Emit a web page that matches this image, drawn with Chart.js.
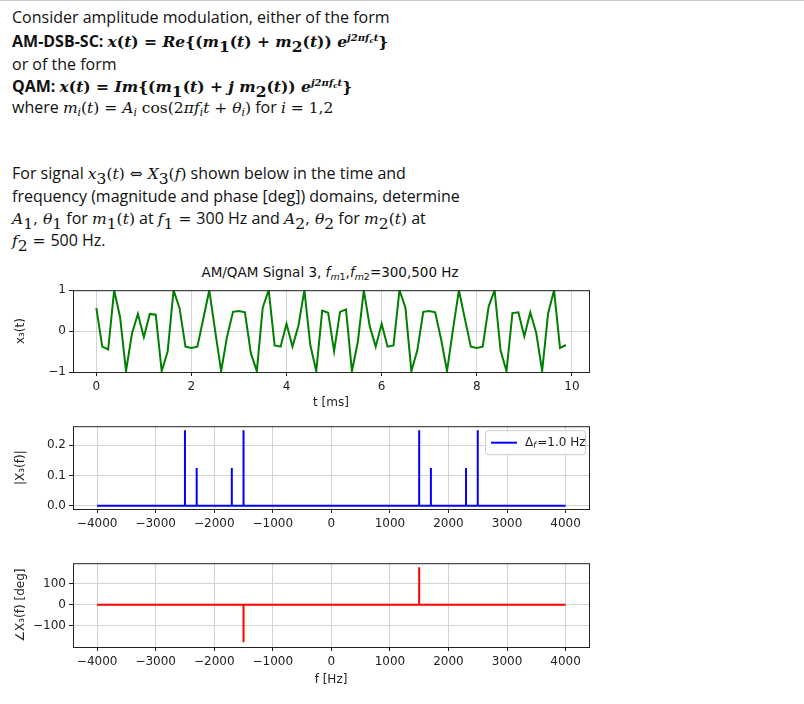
<!DOCTYPE html>
<html><head><meta charset="utf-8">
<script src="https://cdn.jsdelivr.net/npm/chart.js@4.4.0/dist/chart.umd.min.js"></script>
<style>
body{margin:0;background:#fff;width:804px;height:704px;position:relative;overflow:hidden;font-family:"Open Sans",sans-serif;}
.ln{position:absolute;left:12px;font-size:16px;color:#111;white-space:nowrap;line-height:20px;}
.m{font-family:"DejaVu Serif","Liberation Serif",serif;font-style:italic;font-size:15.5px;}
.mb{font-family:"DejaVu Serif","Liberation Serif",serif;font-style:italic;font-weight:bold;font-size:15.5px;}
.r{font-family:"DejaVu Serif",serif;font-style:normal;font-size:15.5px;}
sub{font-size:70%;vertical-align:-0.3em;line-height:0;}
sup{font-size:65%;vertical-align:0.6em;line-height:0;}
canvas{position:absolute;left:14px;}
#title{position:absolute;top:264px;left:0;width:660px;text-align:center;font-family:"DejaVu Sans",sans-serif;font-size:13.5px;color:#111;}
#topline{position:absolute;top:0;left:0;width:804px;height:1px;background:#ccc;}
</style></head><body>
<div id="topline"></div>
<div class="ln" style="top:7px">Consider amplitude modulation, either of the form</div>
<div class="ln" style="top:31px"><b>AM-DSB-SC:</b> <span class="mb">x</span><span class="r"><b>(</b></span><span class="mb">t</span><span class="r"><b>) = </b></span><span class="mb">Re</span><span class="r"><b>{(</b></span><span class="mb">m</span><b><sub class="r">1</sub></b><span class="r"><b>(</b></span><span class="mb">t</span><span class="r"><b>) + </b></span><span class="mb">m</span><b><sub class="r">2</sub></b><span class="r"><b>(</b></span><span class="mb">t</span><span class="r"><b>)) </b></span><span class="mb">e<sup>j2πf<sub>c</sub>t</sup></span><span class="r"><b>}</b></span></div>
<div class="ln" style="top:54px">or of the form</div>
<div class="ln" style="top:76px"><b>QAM:</b> <span class="mb">x</span><span class="r"><b>(</b></span><span class="mb">t</span><span class="r"><b>) = </b></span><span class="mb">Im</span><span class="r"><b>{(</b></span><span class="mb">m</span><b><sub class="r">1</sub></b><span class="r"><b>(</b></span><span class="mb">t</span><span class="r"><b>) + </b></span><span class="mb">j m</span><b><sub class="r">2</sub></b><span class="r"><b>(</b></span><span class="mb">t</span><span class="r"><b>)) </b></span><span class="mb">e<sup>j2πf<sub>c</sub>t</sup></span><span class="r"><b>}</b></span></div>
<div class="ln" style="top:97px">where <span class="m">m<sub>i</sub></span><span class="r">(</span><span class="m">t</span><span class="r">) = </span><span class="m">A<sub>i</sub></span><span class="r"> cos(2</span><span class="m">πf<sub>i</sub>t</span><span class="r"> + </span><span class="m">θ<sub>i</sub></span><span class="r">)</span> for <span class="m">i</span><span class="r"> = 1,2</span></div>
<div class="ln" style="top:163px">For signal <span class="m">x</span><sub class="r">3</sub><span class="r">(</span><span class="m">t</span><span class="r">) ⇔ </span><span class="m">X</span><sub class="r">3</sub><span class="r">(</span><span class="m">f</span><span class="r">)</span> shown below in the time and</div>
<div class="ln" style="top:186px">frequency (magnitude and phase [deg]) domains, determine</div>
<div class="ln" style="top:208px"><span class="m">A</span><sub class="r">1</sub><span class="r">, </span><span class="m">θ</span><sub class="r">1</sub> for <span class="m">m</span><sub class="r">1</sub><span class="r">(</span><span class="m">t</span><span class="r">)</span> at <span class="m">f</span><sub class="r">1</sub><span class="r"> = </span>300 Hz and <span class="m">A</span><sub class="r">2</sub><span class="r">, </span><span class="m">θ</span><sub class="r">2</sub> for <span class="m">m</span><sub class="r">2</sub><span class="r">(</span><span class="m">t</span><span class="r">)</span> at</div>
<div class="ln" style="top:230px"><span class="m">f</span><sub class="r">2</sub><span class="r"> = </span>500 Hz.</div>
<div id="title">AM/QAM Signal 3, <i>f</i><sub><i>m</i>1</sub>,<i>f</i><sub><i>m</i>2</sub>=300,500 Hz</div>
<canvas id="c1" style="top:280px"></canvas>
<canvas id="c2" style="top:416px"></canvas>
<canvas id="c3" style="top:553px"></canvas>
<script>
const timeSamplesMs = Array.from({length:80},(_, i)=>i*0.125);
const x3 = [0.57,-0.38,-0.45,1.0,0.34,-0.98,-0.06,0.42,-0.15,0.42,
0.40,-0.98,-0.5,1.0,0.56,-0.38,-0.41,-0.38,0.3,1.0,
0.0,-0.98,-0.13,0.47,0.49,0.46,-0.54,-0.98,0.58,1.0,
-0.35,-0.38,0.18,-0.38,0.13,1.0,-0.34,-0.98,0.5,0.45,
-0.49,0.47,0.53,-0.98,-0.26,1.0,0.11,-0.38,0.18,-0.38,
-0.35,1.0,0.57,-0.98,-0.47,0.47,0.49,0.46,-0.2,-0.98,
0.04,1.0,0.3,-0.38,-0.41,-0.38,0.6,1.0,-0.47,-0.98,
0.44,0.46,-0.13,0.46,-0.04,-0.98,0.43,1.0,-0.41,-0.34];
const specFreqs = [-2500,-2300,-1700,-1500,1500,1700,2300,2500];
const specMags  = [0.25,0.125,0.125,0.25,0.25,0.125,0.125,0.25];
const specPhase = [0,0,0,-180,180,0,0,0];
const timeTicks = [0,2,4,6,8,10];
const freqTicks = [-4000,-3000,-2000,-1000,0,1000,2000,3000,4000];
const xTicks = [-1,0,1], magTicks=[0,0.1,0.2], phTicks=[-100,0,100];

function stems(vals){
  const pts=[{x:-4000,y:0}];
  specFreqs.forEach((f,i)=>{ if(vals[i]!==0){pts.push({x:f,y:0},{x:f,y:vals[i]},{x:f,y:0});} });
  pts.push({x:4000,y:0});
  return pts;
}
const F='"DejaVu Sans", sans-serif';
const PH={c1:84,c2:85,c3:86};
const box={id:'box',afterDraw(c){const a=c.chartArea,x=c.ctx;x.save();x.strokeStyle='#222';x.lineWidth=1;x.strokeRect(a.left+0.5,a.top+0.5,a.right-a.left,a.bottom-a.top);x.restore();}};
function mk(id,h,ds,xmin,xmax,xt,ymin,ymax,yt,ytitle,xtitle,fmt,extra){
  const cv=document.getElementById(id);cv.width=586;cv.height=h;cv.style.width='586px';cv.style.height=h+'px';
  return new Chart(cv,{type:'line',data:{datasets:ds},plugins:[box].concat(extra||[]),
   options:{responsive:false,animation:false,devicePixelRatio:1,
   layout:{padding:{top:8,right:11,left:0,bottom:0}},
   plugins:{legend:{display:false},tooltip:{enabled:false}},
   elements:{point:{radius:0}},
   scales:{
    x:{type:'linear',min:xmin,max:xmax,afterBuildTicks:s=>{s.ticks=xt.map(v=>({value:v}));},
      afterFit:s=>{s.height=h-8-PH[id];},
      grid:{color:'#d4d4d4',tickColor:'#222',tickLength:4},border:{display:false},
      ticks:{color:'#222',font:{family:F,size:12},maxRotation:0,padding:4,callback:v=>String(v).replace('-','−')},
      title:{display:!!xtitle,text:xtitle,color:'#222',font:{family:F,size:12},padding:{top:0,bottom:0}}},
    y:{min:ymin,max:ymax,afterBuildTicks:s=>{s.ticks=yt.map(v=>({value:v}));},
      afterFit:s=>{s.width=59;},
      grid:{color:'#d4d4d4',tickColor:'#222',tickLength:4},border:{display:false},
      ticks:{color:'#222',font:{family:F,size:12},padding:3,callback:v=>fmt(v)},
      title:{display:true,text:ytitle,color:'#222',font:{family:F,size:12},padding:{top:0,bottom:0}}}
   }}});
}
const dash=v=>String(v).replace('-','−');
mk('c1',130,[{data:timeSamplesMs.map((t,i)=>({x:t,y:x3[i]})),borderColor:'#008000',borderWidth:2,tension:0}],
  -0.49,10.36,timeTicks,-1.0,1.0,xTicks,'x₃(t)','t [ms]',dash);
const legendPlug={id:'lg',afterDraw(c){const a=c.chartArea,x=c.ctx;x.save();
  const L=a.right-104,T=a.top+4,W=100,H=24;x.fillStyle='rgba(255,255,255,0.85)';x.strokeStyle='#ccc';x.lineWidth=1;
  x.beginPath();x.roundRect(L+0.5,T+0.5,W,H,3);x.fill();x.stroke();
  x.strokeStyle='#0000ff';x.lineWidth=2;x.beginPath();x.moveTo(L+6,T+12.5);x.lineTo(L+32,T+12.5);x.stroke();
  x.fillStyle='#222';x.font='12px '+F;x.textBaseline='middle';x.fillText('Δ',L+40,T+12.5);
  const w=x.measureText('Δ').width;x.font='italic 8px '+F;x.fillText('f',L+40+w,T+16);
  x.font='12px '+F;x.fillText('=1.0 Hz',L+40+w+4,T+12.5);x.restore();}};
mk('c2',116,[{data:stems(specMags),borderColor:'#0000ff',borderWidth:2,tension:0}],
  -4412,4400,freqTicks,-0.0107,0.263,magTicks,'|X₃(f)|','',v=>v.toFixed(1),[legendPlug]);
mk('c3',134,[{data:stems(specPhase),borderColor:'#ff0000',borderWidth:2,tension:0}],
  -4412,4400,freqTicks,-203,200,phTicks,'∠X₃(f) [deg]','f [Hz]',dash);
</script></body></html>
